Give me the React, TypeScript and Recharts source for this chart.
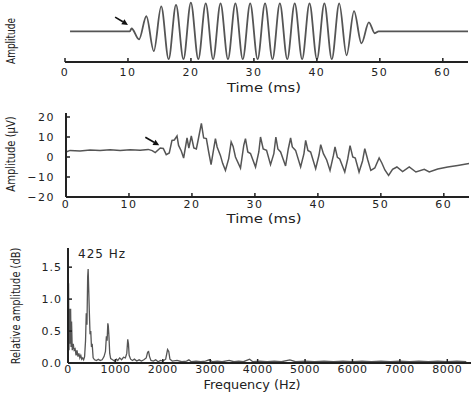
import { LineChart, Line, XAxis, YAxis, ReferenceLine } from 'recharts';

// Stimulus: tone burst, times (ms) of each turning point and relative amplitude
const stimTime = [0.8, 10.3, 10.57, 11.75, 12.92, 14.1, 15.28, 16.46, 17.63, 18.81, 19.99, 21.17, 22.35, 23.52, 24.7, 25.88, 27.06, 28.23, 29.41, 30.59, 31.77, 32.95, 34.12, 35.3, 36.48, 37.66, 38.83, 40.01, 41.19, 42.37, 43.55, 44.72, 45.9, 47.08, 48.26, 49.2, 49.8, 64];
const stimAmp = [0, 0, 0.1, -0.29, 0.54, -0.71, 0.89, -1, 0.95, -1, 1.03, -1, 1, -1, 1, -1, 1, -1, 1, -1, 1, -1, 1, -1, 1, -1, 1, -1, 1, -1, 1, -0.86, 0.72, -0.43, 0.32, -0.07, 0, 0];

// Response (uV)
const respTime = [0, 0.64, 2.23, 3.82, 5.41, 7.01, 8.6, 10.19, 11.78, 13.06, 13.69, 14.17, 14.97, 15.45, 15.92, 16.4, 16.83, 17.2, 17.63, 17.88, 18.31, 18.68, 19.22, 19.51, 19.9, 20.3, 20.7, 21.02, 21.5, 21.86, 22.29, 22.66, 23.04, 23.46, 23.73, 24.0, 24.52, 24.89, 25.32, 25.84, 26.23, 26.54, 26.91, 27.71, 28.23, 28.5, 28.87, 29.3, 30.1, 30.62, 30.89, 31.32, 31.85, 32.48, 33.01, 33.33, 33.65, 34.08, 34.87, 35.3, 35.67, 35.94, 36.46, 37.26, 37.79, 38.06, 38.42, 38.85, 39.65, 40.18, 40.45, 40.88, 41.4, 41.93, 42.47, 42.72, 43.1, 43.47, 44.27, 44.74, 45.11, 45.54, 45.94, 46.54, 47.09, 47.45, 47.93, 48.41, 49.04, 49.73, 50.16, 50.64, 51.23, 51.86, 52.55, 53.46, 54.51, 55.57, 56.9, 57.69, 59.03, 60.62, 62.21, 64];
const respAmp = [2.5, 3.3, 3.0, 3.5, 3.2, 3.6, 3.3, 3.6, 3.4, 3.8, 3.2, 2.2, 4.5, 4.3, 1.2, 2.0, 8.3, 8.5, 10.5, 5.8, 3.0, -0.5, 9.5, 4.5, 10.5, 4.5, 4.0, 9.0, 16.8, 9.5, 9.2, 2.5, -3.8, 4.2, 9.2, 5.0, 0.8, -3.3, -6.7, -0.8, 7.5, 5.3, 0, -5.5, 5.8, 9.2, 2.5, 1.7, -5.0, 2.5, 10, 4.0, 3.3, -3.8, 1.7, 10, 4.0, 2.5, -4.5, 4.0, 9.5, 5.0, 3.3, -5.0, 1.7, 8.3, 3.3, 2.5, -5.8, 1.0, 6.2, 1.7, -1.5, -6.7, 0.8, 5.0, -0.2, -1.0, -7.5, -1.0, 5.7, 0, -0.5, -7.5, -2, 4.2, -1.5, -6.7, -5.5, -0.5, -3, -6.5, -9.2, -6.2, -5.0, -7.3, -5.0, -7.5, -6.2, -7.5, -6.0, -5.0, -4.2, -3.3];

// Spectrum
const freqHz = [0, 12, 20, 30, 40, 55, 65, 75, 90, 110, 130, 150, 170, 190, 210, 230, 250, 270, 290, 310, 330, 350, 370, 385, 400, 415, 425, 435, 450, 465, 480, 495, 510, 530, 560, 600, 640, 680, 720, 760, 790, 810, 825, 840, 850, 865, 880, 900, 940, 980, 1020, 1050, 1090, 1130, 1170, 1210, 1240, 1260, 1275, 1290, 1320, 1360, 1400, 1450, 1500, 1550, 1600, 1650, 1680, 1700, 1720, 1750, 1800, 1850, 1900, 1950, 2000, 2060, 2100, 2125, 2150, 2200, 2300, 2400, 2500, 2550, 2600, 2700, 2800, 2900, 2980, 3050, 3150, 3250, 3400, 3500, 3600, 3700, 3830, 3900, 4050, 4200, 4350, 4500, 4680, 4800, 5000, 5200, 5400, 5600, 5800, 6000, 6200, 6400, 6600, 6800, 7000, 7200, 7400, 7600, 7800, 8000, 8200, 8400];
const relAmp = [0.5, 1.25, 0.2, 0.85, 0.3, 0.85, 0.25, 0.65, 0.2, 0.3, 0.2, 0.22, 0.12, 0.2, 0.1, 0.15, 0.08, 0.12, 0.06, 0.08, 0.05, 0.1, 0.35, 0.78, 0.6, 1.35, 1.47, 1.2, 0.8, 0.45, 0.5, 0.25, 0.3, 0.08, 0.05, 0.04, 0.06, 0.04, 0.05, 0.1, 0.18, 0.42, 0.35, 0.62, 0.58, 0.4, 0.15, 0.07, 0.05, 0.03, 0.06, 0.04, 0.08, 0.05, 0.09, 0.08, 0.15, 0.37, 0.3, 0.12, 0.06, 0.04, 0.06, 0.03, 0.05, 0.03, 0.05, 0.08, 0.17, 0.18, 0.1, 0.04, 0.03, 0.05, 0.02, 0.04, 0.03, 0.06, 0.21, 0.18, 0.06, 0.03, 0.04, 0.02, 0.03, 0.05, 0.02, 0.03, 0.02, 0.03, 0.05, 0.02, 0.03, 0.02, 0.04, 0.02, 0.03, 0.02, 0.06, 0.02, 0.03, 0.02, 0.03, 0.02, 0.05, 0.02, 0.03, 0.02, 0.03, 0.02, 0.03, 0.02, 0.03, 0.02, 0.03, 0.02, 0.03, 0.02, 0.03, 0.02, 0.03, 0.02, 0.03, 0.02];

const timeTicks = [0, 10, 20, 30, 40, 50, 60];
const voltTicks = [-20, -10, 0, 10, 20];
const voltLabels = ['\u221220', '\u221210', '0', '10', '20'];
const freqTicks = [0, 1000, 2000, 3000, 4000, 5000, 6000, 7000, 8000];
const dbTicks = [0, 0.5, 1, 1.5];
const dbLabels = ['0.0', '0.5', '1.0', '1.5'];

const INK = '#222';
const TRACE = '#555';
const FONT = '"DejaVu Sans", sans-serif';

const BottomTick = ({ x, y, payload, gap, ls }: any) => (
    <g>
        <line x1={x} y1={y} x2={x} y2={y - 4} stroke={INK} strokeWidth={1.5} />
        <text x={x} y={y + gap} textAnchor="middle" dominantBaseline="central" fontSize={11} fill={INK} fontFamily={FONT} letterSpacing={ls}>
            {payload.value}
        </text>
    </g>
);

const LeftTick = ({ x, y, index, gap, labels, ls }: any) => (
    <g>
        <line x1={x} y1={y} x2={x + 4} y2={y} stroke={INK} strokeWidth={1.5} />
        <text x={x - gap} y={y} textAnchor="end" dominantBaseline="central" fontSize={11} fill={INK} fontFamily={FONT} letterSpacing={ls}>
            {labels[index]}
        </text>
    </g>
);

const xTitle = (text: string, cx: number, cy: number, len: number) => () => (
    <text x={cx} y={cy} textAnchor="middle" dominantBaseline="central" fontSize={12} fill={INK} fontFamily={FONT} textLength={len} lengthAdjust="spacingAndGlyphs">{text}</text>
);

// rotated, horizontally squeezed like the condensed face in the original
const yTitle = (text: string, cx: number, cy: number, k: number) => () => (
    <text x={0} y={0} textAnchor="middle" dominantBaseline="central" fontSize={12.5} fill={INK} fontFamily={FONT}
        transform={`translate(${cx},${cy}) rotate(-90) scale(${k},1)`}>{text}</text>
);

const Arrow = (p: any) => {
    const { x1, y1, x2, y2 } = p;
    const a = Math.atan2(y2 - y1, x2 - x1);
    const bx = x2 - 6 * Math.cos(a), by = y2 - 6 * Math.sin(a);
    const px = -Math.sin(a) * 3, py = Math.cos(a) * 3;
    return (
        <g>
            <line x1={x1} y1={y1} x2={bx} y2={by} stroke="#111" strokeWidth={1.6} />
            <polygon points={`${x2},${y2} ${bx + px},${by + py} ${bx - px},${by - py}`} fill="#111" />
        </g>
    );
};

export default function App() {
    const stim = stimTime.map((t, i) => ({ t, v: stimAmp[i] }));
    const resp = respTime.map((t, i) => ({ t, v: respAmp[i] }));
    const spec = freqHz.map((f, i) => ({ f, v: relAmp[i] }));

    return (
        <div style={{ position: 'absolute', left: 0, top: 0, width: 474, height: 395, background: '#fff' }}>
            {/* stimulus */}
            <div style={{ position: 'absolute', left: 0, top: 0 }}>
                <LineChart width={474} height={100} data={stim} margin={{ top: 2, right: 6, bottom: 0, left: 0 }}>
                    <XAxis dataKey="t" type="number" domain={[0, 64]} ticks={timeTicks} interval={0} height={38}
                        axisLine={{ stroke: INK, strokeWidth: 2 }} tickLine={false} tickSize={0} tickMargin={0}
                        tick={(p: any) => <BottomTick {...p} gap={10} ls={1.5} />}
                        label={{ content: xTitle('Time (ms)', 264, 88, 74) }} />
                    <YAxis type="number" domain={[-1.1, 1.05]} width={65} axisLine={false} tickLine={false} tick={false}
                        label={{ content: yTitle('Amplitude', 11, 41, 0.72) }} />
                    <Line type="monotone" dataKey="v" stroke={TRACE} strokeWidth={1.8} dot={false} isAnimationActive={false} />
                    <ReferenceLine segment={[{ x: 7.96, y: 0.51 }, { x: 10.0, y: 0.23 }]} shape={Arrow} />
                </LineChart>
            </div>

            {/* response */}
            <div style={{ position: 'absolute', left: 0, top: 100 }}>
                <LineChart width={474} height={130} data={resp} margin={{ top: 13, right: 5, bottom: 0, left: 0 }}>
                    <XAxis dataKey="t" type="number" domain={[0, 64]} ticks={timeTicks} interval={0} height={33}
                        axisLine={{ stroke: INK, strokeWidth: 2 }} tickLine={false} tickSize={0} tickMargin={0}
                        tick={(p: any) => <BottomTick {...p} gap={7.5} ls={1.5} />}
                        label={{ content: xTitle('Time (ms)', 264, 118.5, 75) }} />
                    <YAxis type="number" domain={[-20, 22]} ticks={voltTicks} interval={0} width={66}
                        axisLine={{ stroke: INK, strokeWidth: 2 }} tickLine={false} tickSize={0} tickMargin={0}
                        tick={(p: any) => <LeftTick {...p} gap={11} ls={1.5} labels={voltLabels} />}
                        label={{ content: yTitle('Amplitude (\u03bcV)', 11, 54, 0.8) }} />
                    <Line type="linear" dataKey="v" stroke={TRACE} strokeWidth={1.5} dot={false} isAnimationActive={false} />
                    <ReferenceLine segment={[{ x: 12.6, y: 9.85 }, { x: 14.8, y: 5.85 }]} shape={Arrow} />
                </LineChart>
            </div>

            {/* spectrum */}
            <div style={{ position: 'absolute', left: 0, top: 230 }}>
                <LineChart width={474} height={165} data={spec} margin={{ top: 18, right: 3, bottom: 0, left: 0 }}>
                    <XAxis dataKey="f" type="number" domain={[0, 8500]} ticks={freqTicks} interval={0} height={32}
                        axisLine={{ stroke: INK, strokeWidth: 2 }} tickLine={false} tickSize={0} tickMargin={0}
                        tick={(p: any) => <BottomTick {...p} gap={6.5} ls={0.5} />}
                        label={{ content: xTitle('Frequency (Hz)', 252, 155, 97) }} />
                    <YAxis type="number" domain={[0, 1.8]} ticks={dbTicks} interval={0} width={68}
                        axisLine={{ stroke: INK, strokeWidth: 2 }} tickLine={false} tickSize={0} tickMargin={0}
                        tick={(p: any) => <LeftTick {...p} gap={6} ls={1} labels={dbLabels} />}
                        label={{ content: yTitle('Relative amplitude (dB)', 16, 76, 0.79) }} />
                    <Line type="linear" dataKey="v" stroke={TRACE} strokeWidth={1.3} dot={false} isAnimationActive={false} />
                </LineChart>
                <div style={{ position: 'absolute', left: 78, top: 17, fontFamily: FONT, fontSize: 12, color: INK, letterSpacing: 1 }}>425 Hz</div>
            </div>
        </div>
    );
}
